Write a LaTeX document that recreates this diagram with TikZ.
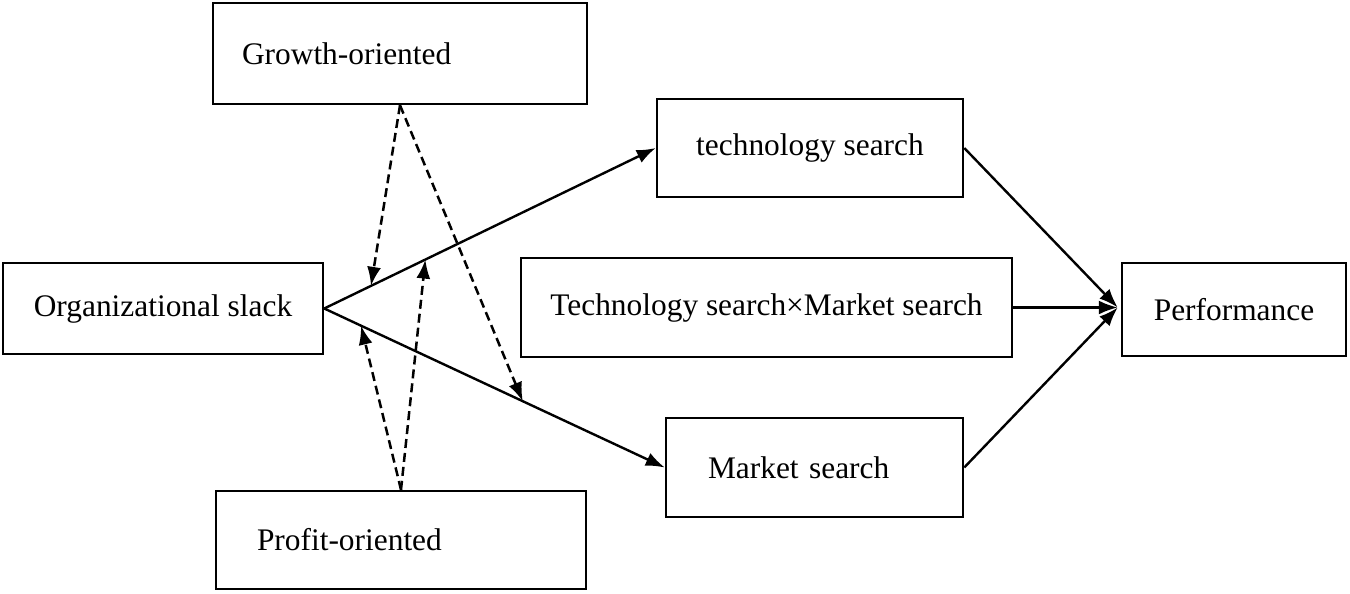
\documentclass[tikz,border=0pt]{standalone}
\usepackage{fontspec}
\setmainfont{Liberation Serif}
\usetikzlibrary{arrows.meta}
\tikzset{
  factor/.style={draw, line width=2.5pt, inner sep=0pt, font=\fontsize{31.4}{36}\selectfont},
  factorl/.style 2 args={factor, text width=#1, inner xsep=#2, align=left},
  link/.style={line width=2.4pt, -{Latex[length=19pt,width=14pt]}},
  moderator/.style={link, line width=2.5pt, dash pattern=on 9pt off 5pt},
}

\begin{document}
\begin{tikzpicture}[x=1pt, y=-1pt]
\useasboundingbox (0,0) rectangle (1350,594);
\node[factorl={316pt}{29pt}, minimum height=101pt] (growth) at (400,53.5) {Growth-oriented};
	\node[factorl={288pt}{41pt}, minimum height=98pt] (profit) at (401,540) {Profit-oriented};
	\node[factor, minimum width=320pt, minimum height=91pt] (slack) at (163,308.5) {Organizational slack};
	
	\node[factor, minimum width=306pt, minimum height=98pt] (tech) at (810,148) {technology search};
	\node[factor, minimum width=491pt, minimum height=99pt] (inter) at (766.5,307.5) {Technology search×Market search};
	\node[factorl={213pt}{42pt}, minimum height=99pt] (market) at (814.5,467.5) {Market search};
	
	\node[factor, minimum width=224pt, minimum height=93pt] (perf) at (1234,309.5) {Performance};
	\coordinate (hub) at ([xshift=-3pt, yshift=2pt]perf.west);
	
	
	
	\draw[link] (slack.east) -- (tech.west) coordinate[pos=0.141] (gt) coordinate[pos=0.305] (pt);
	\draw[link] (slack.east) -- (market.west) coordinate[pos=0.108] (pm) coordinate[pos=0.583] (gm);
	
	\draw[link] (tech.east) -- (hub);
	\draw[link] (inter.east) -- (hub);
	\draw[link] (market.east) -- (hub);
	
	\draw[moderator] (growth.south) -- (gt);
	\draw[moderator] (growth.south) -- (gm);
	\draw[moderator] (profit.north) -- (pt);
	\draw[moderator] (profit.north) -- (pm);

\end{tikzpicture}
\end{document}
